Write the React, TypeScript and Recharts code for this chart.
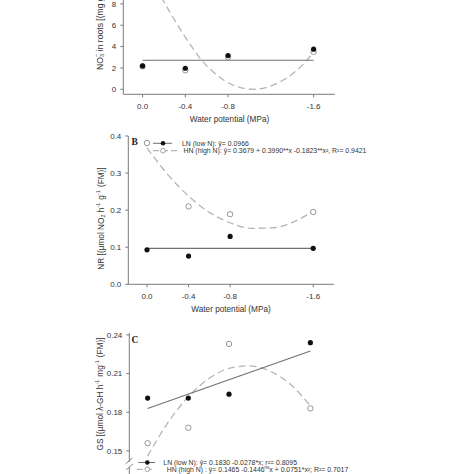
import React from 'react';
import { ComposedChart, Line, Scatter, XAxis, YAxis, Legend } from 'recharts';

// ---------- shared ----------
const waterPotential = [0, -0.4, -0.8, -1.6];
const xTickValues = [0, -0.4, -0.8, -1.6];
const xLabel = 'Water potential (MPa)';
const fitEnds = [0, -1.6];

// ---------- Panel A : NO3- in roots ----------
const lnRoots = [2.19, 1.97, 3.16, 3.76];
const hnRoots = [2.15, 1.78, 3.0, 3.5];
const lnRootsMean = [2.72, 2.72];
const hnRootsCurveX = [0, -0.1, -0.19, -0.28, -0.375, -0.47, -0.55, -0.66, -0.78, -0.91, -1.04, -1.16, -1.29, -1.41, -1.54, -1.6];
const hnRootsCurve = [12.4, 10.2, 8.38, 6.82, 5.26, 3.85, 2.75, 1.65, 0.72, 0.19, 0, 0.19, 0.72, 1.5, 2.75, 3.53];
const rootsTicks = [0, 2, 4, 6, 8, 10, 12];

// ---------- Panel B : NR ----------
const lnNR = [0.093, 0.076, 0.129, 0.097];
const hnNR = [0.381, 0.21, 0.189, 0.195];
const lnNRMean = [0.097, 0.097];
const curveX = [0, -0.2, -0.4, -0.6, -0.8, -1.0, -1.2, -1.4, -1.6];
const hnNRCurve = [0.368, 0.296, 0.238, 0.194, 0.166, 0.151, 0.152, 0.167, 0.197];
const nrTicks = [0, 0.1, 0.2, 0.3, 0.4];

// ---------- Panel C : GS ----------
const lnGS = [0.191, 0.191, 0.194, 0.234];
const hnGS = [0.156, 0.168, 0.233, 0.183];
const lnGSFit = [0.183, 0.2275];
const hnGSCurve = [0.146, 0.172, 0.192, 0.206, 0.214, 0.216, 0.212, 0.202, 0.185];
const gsTicks = [0.15, 0.18, 0.21, 0.24];

const pts = (xs: number[], ys: number[]) => xs.map((x, i) => ({ x, y: ys[i] }));

const FONT = '"Liberation Sans", Arial, sans-serif';
const SERIF = '"Liberation Serif", "Times New Roman", serif';
const TEXT = '#333';
const AXIS = '#7a7a7a';
const LN_LINE = '#707070';
const HN_LINE = '#b5b5b5';

const FilledDot = (p: any) => <circle cx={p.cx} cy={p.cy} r={2.6} fill="#111" />;
const OpenDot = (p: any) => (
  <circle cx={p.cx} cy={p.cy} r={2.7} fill="#fff" stroke="#8a8a8a" strokeWidth={0.9} />
);

type PanelProps = {
  top: number;
  height: number;
  marginTop: number;
  plotLeft: number;
  plotRight: number;
  yDomain: [number, number];
  yTicks: number[];
  yFmt: (v: number) => string;
  ln: { x: number; y: number }[];
  hn: { x: number; y: number }[];
  lnFit: { x: number; y: number }[];
  hnFit: { x: number; y: number }[];
  yLabel: () => React.ReactElement;
  legend?: React.ReactNode;
};

function Panel(p: PanelProps) {
  return (
    <div style={{ position: 'absolute', left: 0, top: p.top }}>
      <ComposedChart
        width={474}
        height={p.height}
        margin={{ top: p.marginTop, right: 474 - p.plotRight, bottom: 0, left: 0 }}
      >
        <XAxis
          type="number"
          dataKey="x"
          domain={[-1.8, 0.18]}
          reversed
          allowDataOverflow
          ticks={xTickValues}
          interval={0}
          tickFormatter={(v: number) => v.toFixed(1)}
          height={35}
          tickSize={3}
          tickMargin={6}
          axisLine={{ stroke: AXIS }}
          tickLine={{ stroke: AXIS }}
          tick={{ fill: TEXT, fontSize: 8 }}
        />
        <YAxis
          type="number"
          dataKey="y"
          domain={p.yDomain}
          allowDataOverflow
          ticks={p.yTicks}
          interval={0}
          tickFormatter={p.yFmt}
          width={p.plotLeft}
          tickSize={3}
          tickMargin={4}
          axisLine={{ stroke: AXIS }}
          tickLine={{ stroke: AXIS }}
          tick={{ fill: TEXT, fontSize: 8 }}
          label={{ content: p.yLabel }}
        />
        <Line
          data={p.hnFit}
          dataKey="y"
          type="monotone"
          stroke={HN_LINE}
          strokeWidth={1.3}
          strokeDasharray="7 4"
          dot={false}
          activeDot={false}
          isAnimationActive={false}
        />
        <Line
          data={p.lnFit}
          dataKey="y"
          type="linear"
          stroke={LN_LINE}
          strokeWidth={1.1}
          dot={false}
          activeDot={false}
          isAnimationActive={false}
        />
        <Scatter data={p.hn} dataKey="y" shape={OpenDot} isAnimationActive={false} />
        <Scatter data={p.ln} dataKey="y" shape={FilledDot} isAnimationActive={false} />
        {p.legend}
      </ComposedChart>
    </div>
  );
}

const sup = (s: string, size = 5.5) => (
  <>
    <tspan dy={-3} fontSize={size}>{s}</tspan>
    <tspan dy={3}>{'\u200a'}</tspan>
  </>
);

const XTitle = ({ x, y }: { x: number; y: number }) => (
  <text x={x} y={y} textAnchor="middle" dominantBaseline="central" fontSize={8.2} fill={TEXT}>
    {xLabel}
  </text>
);

// ---------- y labels / panel letters / x titles ----------
const labelA = () => (
  <g>
    <text
      x={100}
      y={110}
      transform="rotate(-90, 100, 110)"
      textAnchor="start"
      dominantBaseline="central"
      fontSize={8.6}
      fill={TEXT}
    >
      NO<tspan dy={2} fontSize={6}>3</tspan>
      <tspan dx={-3.3} dy={-5.5} fontSize={6}>−</tspan>
      <tspan dy={3.5}> in roots [(mg g</tspan>
      {sup('-1')}
      <tspan> (FM)]</tspan>
    </text>
    <XTitle x={229.5} y={160} />
  </g>
);

const labelB = () => (
  <g>
    <text
      x={101}
      y={92.5}
      transform="rotate(-90, 101, 92.5)"
      textAnchor="middle"
      dominantBaseline="central"
      fontSize={8.3}
      fill={TEXT}
    >
      NR [(µmol NO<tspan dy={2} fontSize={5.5}>2</tspan>
      <tspan dy={-2}> h</tspan>
      {sup('-1')}
      <tspan> g</tspan>
      {sup('-1')}
      <tspan> (FM)]</tspan>
    </text>
    <text x={131.5} y={19} fontFamily={SERIF} fontWeight="bold" fontSize={9.5} fill="#222">
      B
    </text>
    <XTitle x={231} y={184} />
  </g>
);

const labelC = () => (
  <g>
    <text
      x={100}
      y={71}
      transform="rotate(-90, 100, 71)"
      textAnchor="middle"
      dominantBaseline="central"
      fontSize={8.3}
      fill={TEXT}
    >
      GS [(µmol λ-GH h{sup('-1')}
      <tspan> mg</tspan>
      {sup('-1')}
      <tspan> (FM)]</tspan>
    </text>
    <text x={131.5} y={20} fontFamily={SERIF} fontWeight="bold" fontSize={9.5} fill="#222">
      C
    </text>
    {/* axis break */}
    <rect x={126} y={139} width={7} height={5} fill="#fff" />
    <line x1={125.5} y1={141} x2={132.5} y2={135} stroke={AXIS} strokeWidth={0.9} />
    <line x1={126} y1={147} x2={133} y2={141} stroke={AXIS} strokeWidth={0.9} />
  </g>
);

// ---------- legends ----------
const legendText = { fontSize: 6.9, fill: TEXT, fontFamily: FONT } as const;

const LegendB = () => (
  <svg width={240} height={20} style={{ overflow: 'visible', display: 'block' }}>
    <line x1={3} y1={6.3} x2={22} y2={6.3} stroke={LN_LINE} strokeWidth={1} />
    <circle cx={13} cy={6.3} r={2.3} fill="#111" />
    <text x={32} y={6.3} dominantBaseline="central" {...legendText}>
      LN (low N): ŷ= 0.0966
    </text>
    <line x1={3} y1={13.7} x2={28} y2={13.7} stroke={HN_LINE} strokeWidth={1.2} strokeDasharray="6 3" />
    <circle cx={13} cy={13.7} r={2.3} fill="#fff" stroke="#8a8a8a" strokeWidth={0.8} />
    <text x={33.5} y={13.7} dominantBaseline="central" {...legendText}>
      HN (high N): ŷ= 0.3679 + 0.3990**x -0.1823**x², R²= 0.9421
    </text>
  </svg>
);

const LegendC = () => (
  <svg width={240} height={20} style={{ overflow: 'visible', display: 'block' }}>
    <line x1={8.3} y1={6.5} x2={25} y2={6.5} stroke={LN_LINE} strokeWidth={1} />
    <circle cx={17.3} cy={6.5} r={2.3} fill="#111" />
    <text x={33.3} y={6.5} dominantBaseline="central" {...legendText}>
      LN (low N): ŷ= 0.1830 -0.0278*x; r²= 0.8095
    </text>
    <line x1={6.7} y1={13.3} x2={25} y2={13.3} stroke={HN_LINE} strokeWidth={1.2} strokeDasharray="6 3" />
    <circle cx={17.3} cy={13.3} r={2.3} fill="#fff" stroke="#8a8a8a" strokeWidth={0.8} />
    <text x={36.7} y={13.3} dominantBaseline="central" {...legendText}>
      HN (high N) : ŷ= 0.1465 -0.1446<tspan dy={-2} fontSize={4.5}>ns</tspan>
      <tspan dy={2}>x + 0.0751*x²; R²= 0.7017</tspan>
    </text>
  </svg>
);

export default function App() {
  return (
    <div
      style={{
        position: 'absolute',
        left: 0,
        top: 0,
        width: 474,
        height: 474,
        overflow: 'hidden',
        background: '#fff',
        fontFamily: FONT,
      }}
    >
      <Panel
        top={-40}
        height={169.3}
        marginTop={1.2}
        plotLeft={123.3}
        plotRight={335}
        yDomain={[-0.47, 12]}
        yTicks={rootsTicks}
        yFmt={(v) => String(v)}
        ln={pts(waterPotential, lnRoots)}
        hn={pts(waterPotential, hnRoots)}
        lnFit={pts(fitEnds, lnRootsMean)}
        hnFit={pts(hnRootsCurveX, hnRootsCurve)}
        yLabel={labelA}
      />
      <Panel
        top={126}
        height={193.3}
        marginTop={10}
        plotLeft={128.3}
        plotRight={334}
        yDomain={[0, 0.4]}
        yTicks={nrTicks}
        yFmt={(v) => v.toFixed(1)}
        ln={pts(waterPotential, lnNR)}
        hn={pts(waterPotential, hnNR)}
        lnFit={pts(fitEnds, lnNRMean)}
        hnFit={pts(curveX, hnNRCurve)}
        yLabel={labelB}
        legend={
          <Legend
            layout="vertical"
            align="center"
            verticalAlign="middle"
            wrapperStyle={{ left: 150, top: 11, width: 240, height: 20 }}
            content={() => <LegendB />}
          />
        }
      />
      <Panel
        top={323}
        height={201.6}
        marginTop={10}
        plotLeft={129.3}
        plotRight={330.7}
        yDomain={[0.12, 0.2415]}
        yTicks={gsTicks}
        yFmt={(v) => v.toFixed(2)}
        ln={pts(waterPotential, lnGS)}
        hn={pts(waterPotential, hnGS)}
        lnFit={pts(fitEnds, lnGSFit)}
        hnFit={pts(curveX, hnGSCurve)}
        yLabel={labelC}
        legend={
          <Legend
            layout="vertical"
            align="center"
            verticalAlign="middle"
            wrapperStyle={{ left: 130, top: 133, width: 240, height: 20 }}
            content={() => <LegendC />}
          />
        }
      />
    </div>
  );
}
